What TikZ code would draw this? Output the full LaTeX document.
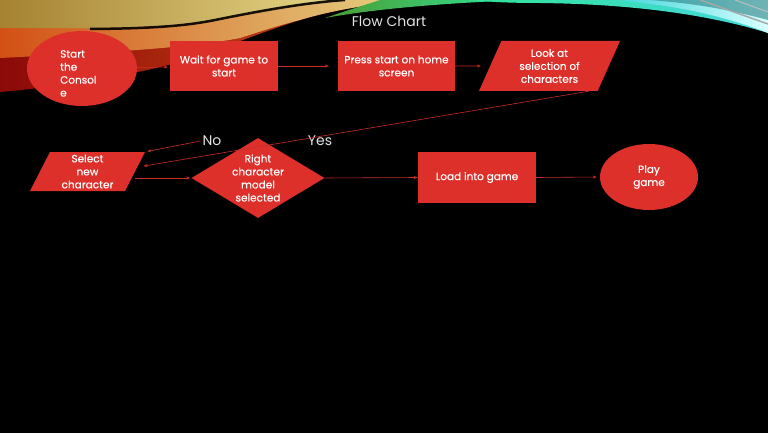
\documentclass[tikz,border=0pt]{standalone}
\usepackage{fontspec}
\setmainfont{Poppins}
\newfontfamily\nodefont{Poppins}[FakeBold=0.3]
\usetikzlibrary{shapes.geometric,arrows.meta}
\definecolor{boxred}{RGB}{221,48,42}
\definecolor{linered}{RGB}{200,45,40}
\definecolor{titlegray}{RGB}{228,228,228}
\definecolor{dkred}{RGB}{140,10,8}
\definecolor{midred}{RGB}{200,30,15}
\definecolor{orng}{RGB}{210,80,20}
\definecolor{orng2}{RGB}{225,140,40}
\definecolor{gold}{RGB}{165,130,50}
\definecolor{ltyel}{RGB}{230,215,135}
\definecolor{grn}{RGB}{30,130,60}
\definecolor{cyn}{RGB}{70,215,220}
\begin{document}
\begin{tikzpicture}[x=1pt,y=-1pt,
  txt/.style={text=white, align=center, font=\nodefont\fontsize{10.5}{13}\selectfont},
  box/.style={rectangle, fill=boxred, inner sep=0pt, txt},
  para/.style={trapezium, trapezium stretches body, fill=boxred, inner sep=0pt, txt},
  oval/.style={ellipse, fill=boxred, inner sep=0pt, txt},
  decis/.style={diamond, fill=boxred, inner sep=0pt},
  lbl/.style={text=titlegray, inner sep=2pt, font=\fontsize{14}{16}\selectfont},
  arr/.style={draw=linered, line width=0.6pt, -{Stealth[length=4pt,width=3pt]}}]
% background
\fill[black] (0,0) rectangle (768,433);
\useasboundingbox (0,0) rectangle (768,433);
% warm swoosh
\shade[left color=dkred, middle color=midred, right color=orng]
  (0,0) -- (0,92) .. controls (90,84) and (150,70) .. (180,62)
  .. controls (220,50) and (250,36) .. (300,20)
  .. controls (340,8) and (380,3) .. (420,0) -- cycle;
\shade[left color=orng, middle color=orng2, right color=ltyel]
  (0,0) -- (0,58) .. controls (100,53) and (190,48) .. (240,38)
  .. controls (265,30) and (280,25) .. (300,20)
  .. controls (340,8) and (380,3) .. (420,0) -- cycle;
\shade[left color=gold, middle color=gold!60!ltyel, right color=ltyel]
  (0,0) -- (0,28) .. controls (100,29) and (170,27) .. (210,21)
  .. controls (240,15) and (290,5) .. (340,0) -- cycle;
\draw[black, line width=2.5pt, opacity=0.9] (90,29) .. controls (160,28.5) and (190,25) .. (215,20)
  .. controls (250,13) and (300,3) .. (345,0);
% cool swoosh
\shade[left color=grn!80!yellow, right color=cyn!70!green]
  (325,18) .. controls (380,8) and (450,3) .. (520,0) -- (380,0)
  .. controls (365,5) and (345,11) .. (325,18) -- cycle;
\shade[left color=cyn!70!green, right color=cyn]
  (470,0) -- (768,0) -- (768,33) .. controls (700,12) and (620,4) .. (540,3)
  .. controls (510,3) and (490,2) .. (470,0) -- cycle;
\shade[left color=cyn, right color=white!85!cyan]
  (620,0) -- (768,0) -- (768,33) .. controls (740,22) and (700,10) .. (650,4) -- cycle;
\fill[cyn!60!black, opacity=0.6] (650,0) -- (768,0) -- (768,20) .. controls (730,10) and (700,4) .. (650,0) -- cycle;
\draw[gray!70, line width=1.5pt] (700,0) -- (768,24);
\draw[gray!50, line width=1pt] (735,0) -- (768,12);
% title
\node[text=titlegray, font=\fontsize{14}{16}\selectfont] (title) at (389,21) {Flow Chart};
% nodes
\node[oval, minimum width=110, minimum height=75] (start) at (82,68.5) {};
\node[txt, anchor=north west, align=left, inner sep=0pt] (starttxt) at (60,50) {Start\\the\\Consol\\e};
\node[box, minimum width=108, minimum height=50] (wait) at (224,66) {Wait for game to\\start};
\node[box, minimum width=117, minimum height=50] (press) at (396.5,66) {Press start on home\\screen};
\node[para, minimum width=141, minimum height=50, trapezium left angle=56.6, trapezium right angle=123.4] (look) at (549.5,66) {Look at\\selection of\\characters};
\node[para, minimum width=115, minimum height=39, trapezium left angle=59.5, trapezium right angle=120.5] (select) at (87.5,171.5) {Select\\new\\character};
\node[decis, minimum width=133, minimum height=80,
  label={[txt]center:{Right\\character\\model\\selected}}] (dia) at (258,178) {};
\node[box, minimum width=118, minimum height=51] (load) at (477,177.5) {Load into game};
\node[oval, minimum width=98, minimum height=66] (play) at (649,177) {Play\\game};
\node[lbl] (no) at (212,141) {No};
\node[lbl] (yes) at (320,141) {Yes};
% connectors
\draw[arr, shorten >=2pt] (start) -- (wait);
\draw[arr, shorten >=9pt] (wait) -- (press);
\draw[arr, shorten >=9pt] (press) -- (look);
\draw[arr, shorten >=6pt] ([xshift=-9pt]look.bottom right corner) -- (select.5);
\draw[arr, shorten >=2pt] (no.west) -- (select.top right corner);
\draw[arr, shorten >=1pt] (select.east |- dia.west) -- (dia.west);
\draw[arr] (dia.east) -- (load.west);
\draw[arr, shorten >=3pt] (load.east) -- (play.west);
\end{tikzpicture}
\end{document}
